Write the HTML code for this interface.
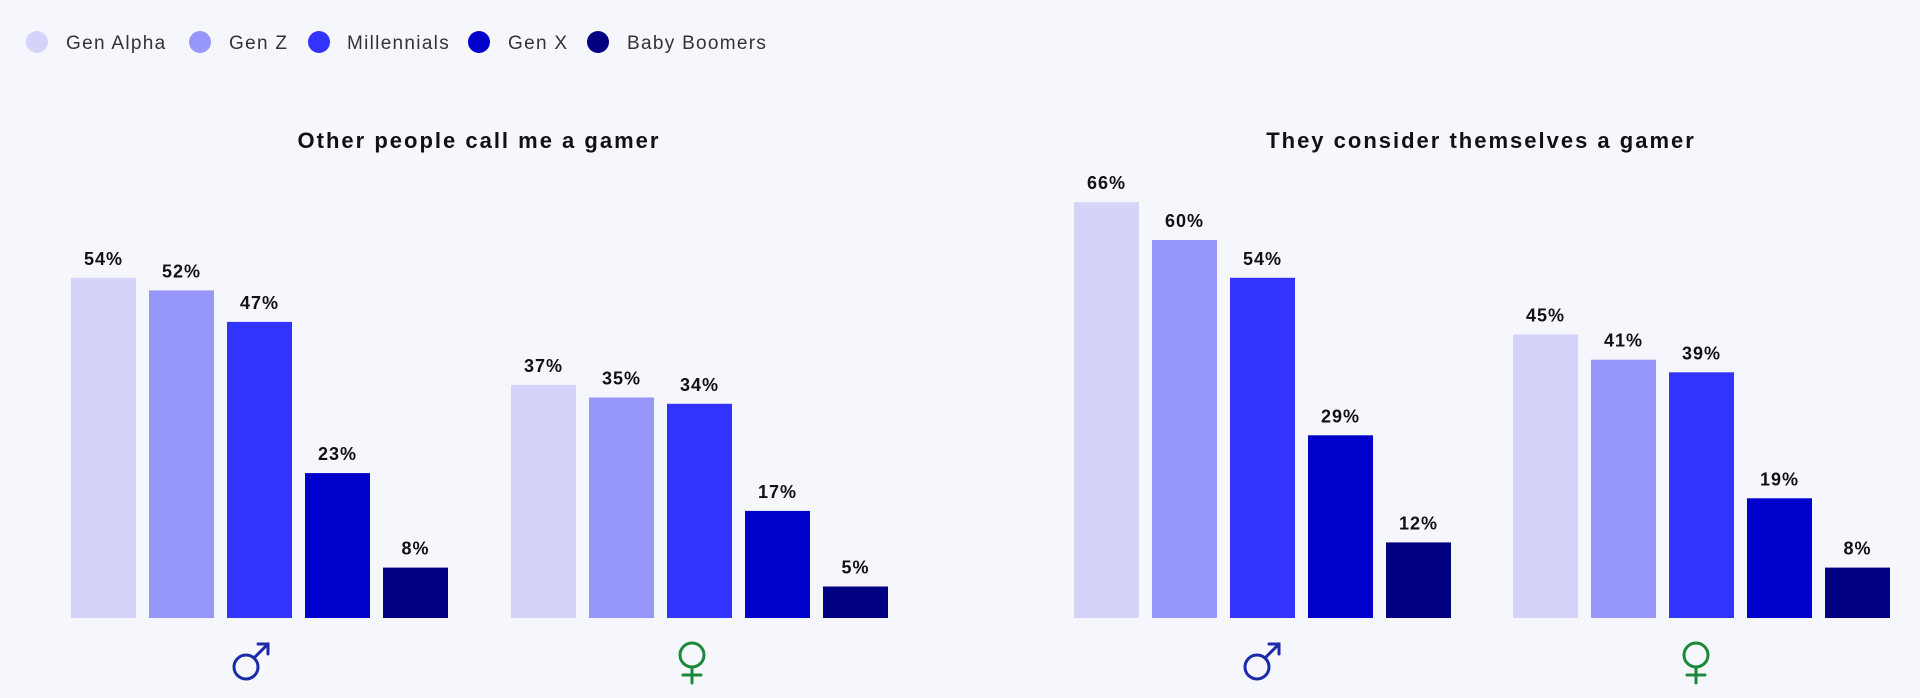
<!DOCTYPE html>
<html><head><meta charset="utf-8"><style>
html,body{margin:0;padding:0;background:#f6f6fd;}
svg{display:block;font-family:"Liberation Sans",sans-serif;}
</style></head><body>
<svg width="1920" height="698" viewBox="0 0 1920 698">
<rect width="1920" height="698" fill="#f6f6fd"/>
<g font-size="19" fill="#333" letter-spacing="1.3">
<circle cx="37" cy="42" r="11" fill="#d4d4fa"/><text x="66" y="49">Gen Alpha</text>
<circle cx="200" cy="42" r="11" fill="#9797fb"/><text x="229" y="49">Gen Z</text>
<circle cx="319" cy="42" r="11" fill="#3333ff"/><text x="347" y="49">Millennials</text>
<circle cx="479" cy="42" r="11" fill="#0000cc"/><text x="508" y="49">Gen X</text>
<circle cx="598" cy="42" r="11" fill="#000080"/><text x="627" y="49">Baby Boomers</text>
</g>
<g font-size="22" fill="#111" text-anchor="middle" font-weight="bold" letter-spacing="2">
<text x="479" y="148">Other people call me a gamer</text>
<text x="1481" y="148">They consider themselves a gamer</text>
</g>
<g>
<rect x="71" y="277.8" width="65" height="340.2" fill="#d4d4fa"/>
<rect x="149" y="290.4" width="65" height="327.6" fill="#9797fb"/>
<rect x="227" y="321.9" width="65" height="296.1" fill="#3333ff"/>
<rect x="305" y="473.1" width="65" height="144.9" fill="#0000cc"/>
<rect x="383" y="567.6" width="65" height="50.4" fill="#000080"/>
<rect x="511" y="384.9" width="65" height="233.1" fill="#d4d4fa"/>
<rect x="589" y="397.5" width="65" height="220.5" fill="#9797fb"/>
<rect x="667" y="403.8" width="65" height="214.2" fill="#3333ff"/>
<rect x="745" y="510.9" width="65" height="107.1" fill="#0000cc"/>
<rect x="823" y="586.5" width="65" height="31.5" fill="#000080"/>
<rect x="1074" y="202.2" width="65" height="415.8" fill="#d4d4fa"/>
<rect x="1152" y="240" width="65" height="378" fill="#9797fb"/>
<rect x="1230" y="277.8" width="65" height="340.2" fill="#3333ff"/>
<rect x="1308" y="435.3" width="65" height="182.7" fill="#0000cc"/>
<rect x="1386" y="542.4" width="65" height="75.6" fill="#000080"/>
<rect x="1513" y="334.5" width="65" height="283.5" fill="#d4d4fa"/>
<rect x="1591" y="359.7" width="65" height="258.3" fill="#9797fb"/>
<rect x="1669" y="372.3" width="65" height="245.7" fill="#3333ff"/>
<rect x="1747" y="498.3" width="65" height="119.7" fill="#0000cc"/>
<rect x="1825" y="567.6" width="65" height="50.4" fill="#000080"/>
</g>
<g font-size="18" font-weight="bold" fill="#111" text-anchor="middle" letter-spacing="1">
<text x="103.5" y="264.8">54%</text>
<text x="181.5" y="277.4">52%</text>
<text x="259.5" y="308.9">47%</text>
<text x="337.5" y="460.1">23%</text>
<text x="415.5" y="554.6">8%</text>
<text x="543.5" y="371.9">37%</text>
<text x="621.5" y="384.5">35%</text>
<text x="699.5" y="390.8">34%</text>
<text x="777.5" y="497.9">17%</text>
<text x="855.5" y="573.5">5%</text>
<text x="1106.5" y="189.2">66%</text>
<text x="1184.5" y="227">60%</text>
<text x="1262.5" y="264.8">54%</text>
<text x="1340.5" y="422.3">29%</text>
<text x="1418.5" y="529.4">12%</text>
<text x="1545.5" y="321.5">45%</text>
<text x="1623.5" y="346.7">41%</text>
<text x="1701.5" y="359.3">39%</text>
<text x="1779.5" y="485.3">19%</text>
<text x="1857.5" y="554.6">8%</text>
</g>
<g fill="none" stroke-width="3" stroke-linecap="round">
<g stroke="#1a2aa8">
<circle cx="246" cy="667" r="12"/><path d="M254 658 L268 644 M258 644 L268 644 L268 654"/>
<circle cx="1257" cy="667" r="12"/><path d="M1265 658 L1279 644 M1269 644 L1279 644 L1279 654"/>
</g>
<g stroke="#1a8a3a">
<circle cx="692" cy="655" r="12"/><path d="M692 667 L692 683 M683 675 L701 675"/>
<circle cx="1696" cy="655" r="12"/><path d="M1696 667 L1696 683 M1687 675 L1705 675"/>
</g>
</g>
</svg>
</body></html>
